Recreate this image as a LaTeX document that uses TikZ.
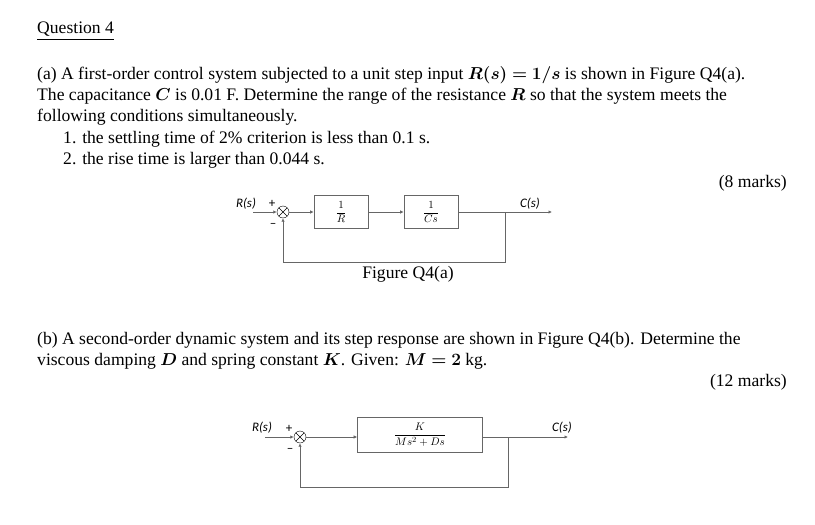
\documentclass[tikz,border=0pt]{standalone}
\usepackage{amsmath,bm}
\usepackage{fontspec}
\setmainfont{Liberation Serif}
\newfontfamily\dia{Carlito}
\newcommand{\bsy}[1]{\bm{#1}}
\usetikzlibrary{arrows.meta}
\begin{document}
\begin{tikzpicture}[x=1pt,y=-1pt,
 txt/.style={anchor=west,inner sep=0,font=\fontsize{17.6}{20}\selectfont},
 blk/.style={draw=black!60,line width=0.8pt,minimum width=54pt,minimum height=33pt,inner sep=0,font=\fontsize{11}{12}\selectfont},
 sj/.style={draw,circle,minimum size=12pt,inner sep=0,path picture={\draw (path picture bounding box.north west)--(path picture bounding box.south east) (path picture bounding box.north east)--(path picture bounding box.south west);}},
 ln/.style={draw=black!60,line width=0.8pt},
 ar/.style={ln,-{Latex[length=3.5pt,width=3.5pt]}},
 lab/.style={inner sep=0,font=\dia\itshape\fontsize{13}{14}\selectfont},
 pm/.style={inner sep=0,font=\dia\fontsize{13}{13}\selectfont}]
\useasboundingbox (0,0) rectangle (815,525);
\node[txt] (q) at (37,31) {\underline{Question 4}};
\node[txt] (a1) at (37,75) {(a) A first-order control system subjected to a unit step input $\bsy{R(s)=1/s}$ is shown in Figure Q4(a).};
\node[txt] (a2) at (37,96) {The capacitance $\bsy{C}$ is 0.01 F. Determine the range of the resistance $\bsy{R}$ so that the system meets the};
\node[txt] (a3) at (37,117) {following conditions simultaneously.};
\node[txt] (a4) at (63,139) {1. the settling time of 2\% criterion is less than 0.1 s.};
\node[txt] (a5) at (63,160) {2. the rise time is larger than 0.044 s.};
\node[txt,anchor=east] (m1) at (787,183) {(8 marks)};
\node[txt,anchor=center] (fa) at (408,274) {Figure Q4(a)};
\node[txt] (b1) at (37,340) {(b) A second-order dynamic system and its step response are shown in Figure Q4(b). Determine the};
\node[txt] (b2) at (37,361) {viscous damping $\bsy{D}$ and spring constant $\bsy{K}$. Given: $\bsy{M=2}$ kg.};
\node[txt,anchor=east] (m2) at (787,382) {(12 marks)};
% diagram a
\node[sj] (s1) at (283,212) {};
\node[blk] (g1) at (341,212) {$\dfrac{1}{R}$};
\node[blk] (g2) at (431,212) {$\dfrac{1}{Cs}$};
\coordinate (in1) at (253,212);
\coordinate (br1) at (505,212);
\coordinate (out1) at (552,212);
\node[lab] (r1) at (246,204) {R(s)};
\node[lab] (c1) at (530,204) {C(s)};
\node[pm] (p1) at (272,204) {+};
\node[pm] (n1) at (273,225) {\textendash};
\draw[ar] (in1) -- (s1);
\draw[ar] (s1) -- (g1);
\draw[ar] (g1) -- (g2);
\draw[ar] (g2) -- (out1);
\draw[ar] (br1) |- (283,262) -- (s1);
% diagram b
\node[sj] (s2) at (300,437) {};
\node[blk,minimum width=125pt,minimum height=35pt] (g3) at (420,435) {$\dfrac{K}{Ms^2+Ds}$};
\coordinate (in2) at (265,437);
\coordinate (br2) at (508,437);
\coordinate (out2) at (568,437);
\node[lab] (r2) at (262,428) {R(s)};
\node[lab] (c2) at (562,428) {C(s)};
\node[pm] (p2) at (289,429) {+};
\node[pm] (n2) at (290,450) {\textendash};
\draw[ar] (in2) -- (s2);
\draw[ar] (s2) -- (g3.west|-s2);
\draw[ar] (g3.east|-s2) -- (out2);
\draw[ar] (br2) |- (300,487) -- (s2);
\end{tikzpicture}
\end{document}
